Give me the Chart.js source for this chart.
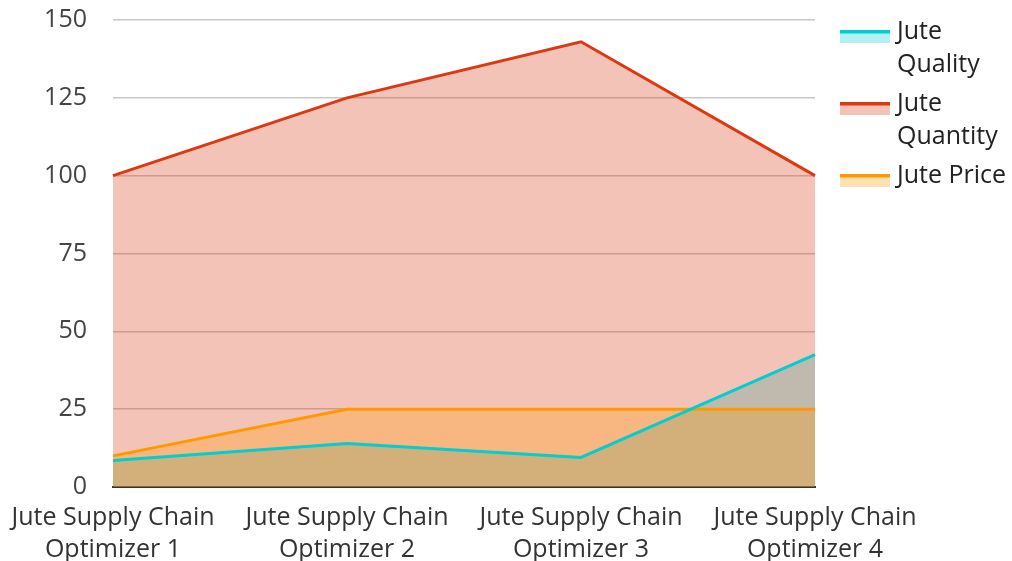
<!DOCTYPE html>
<html>
<head>
<meta charset="utf-8">
<script src="https://cdn.jsdelivr.net/npm/chart.js@4.4.0/dist/chart.umd.min.js"></script>
<style>
  html, body { margin: 0; padding: 0; background: #fff; }
  #wrap { width: 1012px; height: 561px; }
</style>
</head>
<body>
<div id="wrap"><canvas id="myChart" width="1012" height="561"></canvas></div>
<script>
const categories = [
    ['Jute Supply Chain', 'Optimizer 1'],
    ['Jute Supply Chain', 'Optimizer 2'],
    ['Jute Supply Chain', 'Optimizer 3'],
    ['Jute Supply Chain', 'Optimizer 4']
]
const quality = [8.5, 14, 9.5, 42.5]
const quantity = [100, 125, 143, 100]
const price = [10, 25, 25, 25]
const seriesNames = [['Jute', 'Quality'], ['Jute', 'Quantity'], ['Jute Price']]
const yTicks = [0, 25, 50, 75, 100, 125, 150]

const lineColors = ['rgb(0, 206, 209)', 'rgb(220, 57, 18)', 'rgb(255, 153, 0)']
const fillColors = ['rgba(0, 206, 209, 0.3)', 'rgba(220, 57, 18, 0.3)', 'rgba(255, 153, 0, 0.3)']

// legend with wrapped labels, drawn on the right side
const sideLegend = {
    id: 'sideLegend',
    afterDraw(chart) {
        const ctx = chart.ctx
        ctx.save()
        ctx.font = '25px "Open Sans"'
        ctx.textBaseline = 'middle'
        let y = 32
        seriesNames.forEach((name, i) => {
            ctx.fillStyle = fillColors[i]
            ctx.fillRect(840, y - 2, 50, 13)
            ctx.fillStyle = lineColors[i]
            ctx.fillRect(840, y - 2, 50, 3.5)
            ctx.fillStyle = '#222'
            name.forEach((line, j) => {
                ctx.fillText(line, 897, y + j * 33)
            })
            y += 72
        })
        ctx.restore()
    }
}

const common = { fill: 'origin', borderWidth: 3, pointRadius: 0, tension: 0 }

const ctx = document.getElementById('myChart').getContext('2d')
const myChart = new Chart(ctx, {
    type: 'line',
    data: {
        labels: categories,
        datasets: [
            // quality area sits at the bottom of the stack, its line on top of everything
            { ...common, label: 'Jute Quality', data: quality, borderColor: lineColors[0], backgroundColor: fillColors[0], borderWidth: 0, order: 3 },
            { ...common, label: 'Jute Quantity', data: quantity, borderColor: lineColors[1], backgroundColor: fillColors[1], order: 2 },
            { ...common, label: 'Jute Price', data: price, borderColor: lineColors[2], backgroundColor: fillColors[2], order: 1 },
            { ...common, label: 'Jute Quality line', data: quality, borderColor: lineColors[0], fill: false, order: 0 }
        ]
    },
    options: {
        responsive: false,
        animation: false,
        layout: { padding: { top: 0, right: 197, left: 0, bottom: 0 } },
        plugins: {
            legend: { display: false },
            tooltip: { enabled: false },
            filler: { drawTime: 'beforeDatasetsDraw' }
        },
        scales: {
            x: {
                afterFit: scale => { scale.height = 74 },
                grid: { display: false },
                border: { display: true, color: '#333', width: 2 },
                ticks: {
                    color: '#333',
                    font: { family: 'Open Sans', size: 25, lineHeight: 1.28 },
                    padding: 7,
                    maxRotation: 0,
                    autoSkip: false
                }
            },
            y: {
                min: 0,
                max: 150,
                afterFit: scale => {
                    scale.width = 113
                    scale.paddingTop = 20
                    scale.paddingBottom = 0
                },
                afterBuildTicks: scale => { scale.ticks = yTicks.map(v => ({ value: v })) },
                grid: { color: '#c8c8c8', lineWidth: 1.5, drawTicks: false },
                border: { display: false },
                ticks: {
                    color: '#444',
                    font: { family: 'Open Sans', size: 25 },
                    padding: 26
                }
            }
        }
    },
    plugins: [sideLegend]
})
</script>
</body>
</html>
